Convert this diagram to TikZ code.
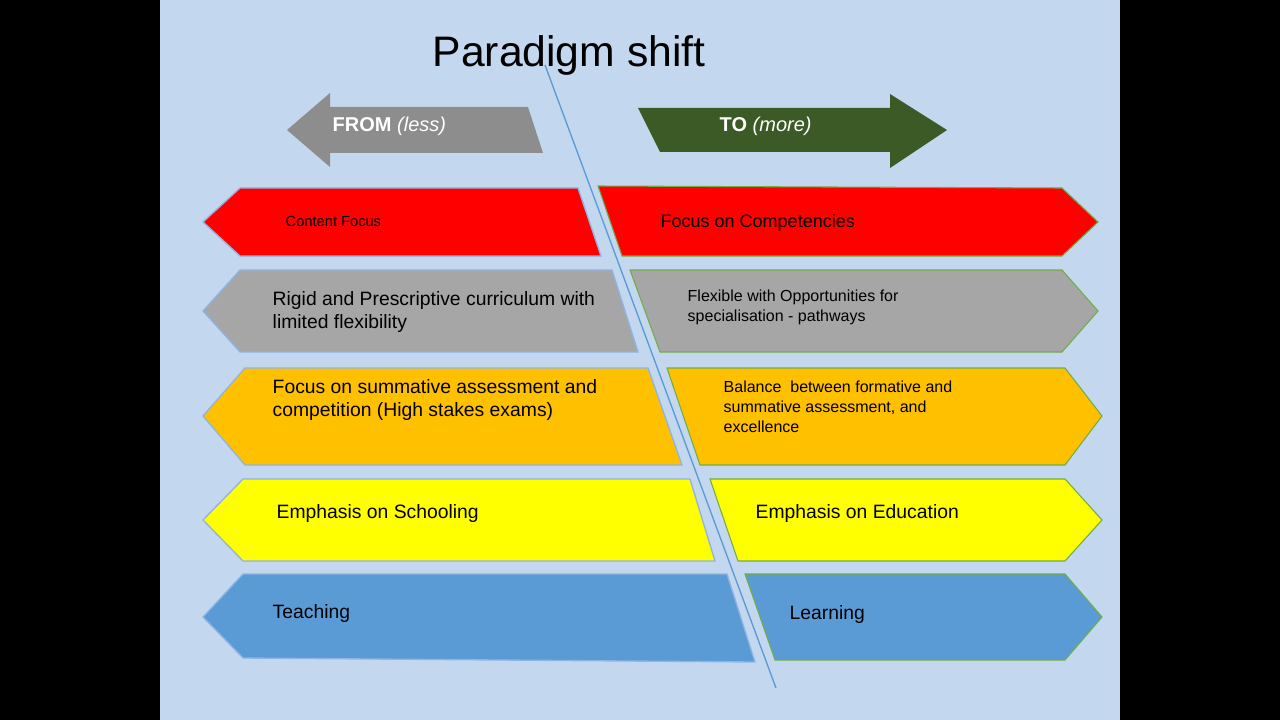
\documentclass[tikz,border=0pt]{standalone}
\usepackage{fontspec}
\setmainfont{Liberation Sans}
\begin{document}
\begin{tikzpicture}[x=0.75pt,y=-0.75pt]
\definecolor{slide}{HTML}{C3D8EE}
\definecolor{rred}{HTML}{FF0000}
\definecolor{rgray}{HTML}{A6A6A6}
\definecolor{rorange}{HTML}{FFC000}
\definecolor{ryellow}{HTML}{FFFF00}
\definecolor{rblue}{HTML}{5B9BD5}
\definecolor{dgreen}{HTML}{3B5A26}
\definecolor{lgreen}{HTML}{70AD47}
\definecolor{lline}{HTML}{8FB4E3}
\tikzset{lshape/.style={draw=lline,line width=1pt},
 rshape/.style={draw=lgreen,line width=0.8pt},
 big/.style={anchor=west,align=left,font=\fontsize{14.5}{17.5}\selectfont},
 mid/.style={anchor=west,align=left,font=\fontsize{12}{15}\selectfont},
 small/.style={anchor=west,font=\fontsize{11}{13}\selectfont}}
\fill[black] (0,0) rectangle (1280,720);
\fill[slide] (160,0) rectangle (1120,720);
\useasboundingbox (0,0) rectangle (1280,720);
\node (title) at (569,55) {\fontsize{32}{38}\selectfont Paradigm shift};
% arrows
\fill[rgray!85!black] (287,130) -- (330,93) -- (330,107) -- (528,107) -- (543,153) -- (330,153) -- (330,167) -- cycle;
\node[anchor=west,text=white,font=\fontsize{15}{18}\selectfont] (from) at (328,126) {\textbf{FROM} \textit{(less)}};
\fill[dgreen] (638,108) -- (890,108) -- (890,94) -- (947,130) -- (890,168) -- (890,152) -- (660,152) -- cycle;
\node[anchor=west,text=white,font=\fontsize{15}{18}\selectfont] (to) at (715,126) {\textbf{TO} \textit{(more)}};
% row 1
\fill[rred,lshape] (203,222) -- (240,188) -- (578,188) -- (601,256) -- (240,256) -- cycle;
\fill[rred,rshape] (598,186) -- (1062,188) -- (1098,222) -- (1062,256) -- (622,256) -- cycle;
\node[small] (l1) at (281,221) {Content Focus};
\node[big,font=\fontsize{13.5}{16}\selectfont] (r1) at (656,223) {Focus on Competencies};
% row 2
\fill[rgray,lshape] (203,311) -- (240,270) -- (612,270) -- (638,352) -- (240,352) -- cycle;
\fill[rgray,rshape] (630,270) -- (1062,270) -- (1098,311) -- (1062,352) -- (660,352) -- cycle;
\node[big] (l2) at (268,312) {Rigid and Prescriptive curriculum with\\limited flexibility};
\node[mid] (r2) at (683,307) {Flexible with Opportunities for\\specialisation - pathways};
% row 3
\fill[rorange,lshape] (203,416) -- (245,368) -- (648,368) -- (682,465) -- (245,465) -- cycle;
\fill[rorange,rshape] (667,368) -- (1065,368) -- (1102,416) -- (1065,465) -- (700,465) -- cycle;
\node[big] (l3) at (268,400) {Focus on summative assessment and\\competition (High stakes exams)};
\node[mid] (r3) at (719,407) {Balance \ between formative and\\summative assessment, and\\excellence};
% row 4
\fill[ryellow,lshape] (203,520) -- (243,479) -- (690,479) -- (715,561) -- (243,561) -- cycle;
\fill[ryellow,rshape] (710,479) -- (1065,479) -- (1102,520) -- (1065,561) -- (738,561) -- cycle;
\node[big] (l4) at (272,513) {Emphasis on Schooling};
\node[big] (r4) at (751,513) {Emphasis on Education};
% row 5
\fill[rblue,lshape] (203,617) -- (243,574) -- (727,574) -- (755,662) -- (243,658) -- cycle;
\fill[rblue,rshape] (745,574) -- (1065,574) -- (1102,617) -- (1065,660) -- (775,660) -- cycle;
\node[big] (l5) at (268,613) {Teaching};
\node[big] (r5) at (785,614) {Learning};
% divider
\coordinate (d1) at (545,65);
\coordinate (d2) at (776,688);
\draw[rblue,line width=1pt] (d1) -- (d2);
\end{tikzpicture}
\end{document}
